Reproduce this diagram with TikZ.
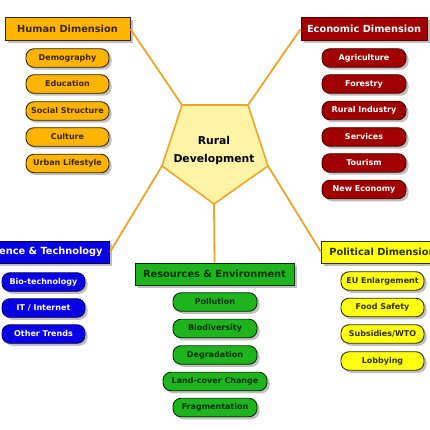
\documentclass[tikz,border=0pt]{standalone}
\usepackage{fontspec}
\setmainfont{DejaVu Sans}
\usetikzlibrary{shadows}
\definecolor{conn}{HTML}{F0A428}
\definecolor{pentfill}{HTML}{FFF4A6}
\definecolor{humfill}{HTML}{FFB400}
\definecolor{humdark}{HTML}{3A2600}
\definecolor{ecofill}{HTML}{A00000}
\definecolor{ecodark}{HTML}{4A0000}
\definecolor{scifill}{HTML}{0A00E6}
\definecolor{scidark}{HTML}{000050}
\definecolor{resfill}{HTML}{1EB41E}
\definecolor{resdark}{HTML}{003000}
\definecolor{polfill}{HTML}{FFFF10}
\definecolor{poldark}{HTML}{303000}
\tikzset{
  conline/.style={draw=conn, line width=1.8pt},
  shad/.style={drop shadow={shadow xshift=2.5pt, shadow yshift=-2.5pt, opacity=0.25, fill=black}},
  header/.style={shad, draw, line width=0.8pt, minimum height=23pt, inner xsep=4pt,
    font=\fontsize{9.8}{11}\selectfont\bfseries},
  pill/.style={shad, draw, line width=0.9pt, rounded corners=8pt, minimum width=83pt,
    minimum height=18.5pt, inner xsep=2pt, inner ysep=0pt, font=\fontsize{8}{9}\selectfont\bfseries},
  hum/.style={fill=humfill, draw=humdark, text=humdark},
  eco/.style={fill=ecofill, draw=ecodark, text=white},
  sci/.style={fill=scifill, draw=scidark, text=white},
  res/.style={fill=resfill, draw=resdark, text=resdark},
  pol/.style={fill=polfill, draw=poldark, text=poldark},
}
\begin{document}
\begin{tikzpicture}[x=1pt, y=-1pt]
\useasboundingbox (0,0) rectangle (430,430);
\clip (0,0) rectangle (430,430);
\fill[white] (0,0) rectangle (430,430);
% pentagon vertices
\coordinate (pTL) at (182,105);
\coordinate (pTR) at (248,105);
\coordinate (pR) at (268,166);
\coordinate (pB) at (214,204);
\coordinate (pL) at (162,166);
% header boxes
\node[header, hum, minimum width=125pt] (human) at (67.5,29) {Human Dimension};
\node[header, eco, minimum width=126pt] (econ) at (364,29) {Economic Dimension};
\node[header, sci, minimum height=22pt, anchor=east, inner xsep=7pt] (sci) at (110,252) {Science \& Technology};
\node[header, res, minimum height=22pt, minimum width=159pt] (resenv) at (214.5,274) {Resources \& Environment};
\node[header, pol, minimum height=22pt, anchor=west, inner xsep=8pt] (pol) at (321,252) {Political Dimension};
% connectors
\draw[conline] (pTL) -- (human.east);
\draw[conline] (pTR) -- (econ.west);
\draw[conline] (pL) -- (sci.east);
\draw[conline] (pR) -- (pol.west);
\draw[conline] (pB) -- (resenv.north);
% pentagon
\draw[fill=pentfill, draw=conn, line width=1.6pt, line join=round] (pTL) -- (pTR) -- (pR) -- (pB) -- (pL) -- cycle;
\node[align=center, font=\fontsize{10.8}{18}\selectfont\bfseries, text=black] (center) at (214,151) {Rural\\Development};
% human items
\node[pill, hum] (h1) at (67.5,58) {Demography};
\node[pill, hum] (h2) at (67.5,84) {Education};
\node[pill, hum] (h3) at (67.5,111) {Social Structure};
\node[pill, hum] (h4) at (67.5,137) {Culture};
\node[pill, hum] (h5) at (67.5,163.5) {Urban Lifestyle};
% economic items
\node[pill, eco, minimum width=84pt] (e1) at (364,58) {Agriculture};
\node[pill, eco, minimum width=84pt] (e2) at (364,84) {Forestry};
\node[pill, eco, minimum width=84pt] (e3) at (364,110.5) {Rural Industry};
\node[pill, eco, minimum width=84pt] (e4) at (364,137) {Services};
\node[pill, eco, minimum width=84pt] (e5) at (364,163) {Tourism};
\node[pill, eco, minimum width=84pt] (e6) at (364,189.5) {New Economy};
% science items
\node[pill, sci] (s1) at (43.5,282) {Bio-technology};
\node[pill, sci] (s2) at (43.5,308) {IT / Internet};
\node[pill, sci] (s3) at (43.5,334) {Other Trends};
% resources items
\node[pill, res, minimum width=84pt] (r1) at (215,302) {Pollution};
\node[pill, res, minimum width=84pt] (r2) at (215,328.5) {Biodiversity};
\node[pill, res, minimum width=84pt] (r3) at (215,355) {Degradation};
\node[pill, res, minimum width=104pt] (r4) at (215,381.5) {Land-cover Change};
\node[pill, res, minimum width=84pt] (r5) at (215,407.5) {Fragmentation};
% political items
\node[pill, pol] (q1) at (382.5,281) {EU Enlargement};
\node[pill, pol] (q2) at (382.5,307.5) {Food Safety};
\node[pill, pol] (q3) at (382.5,334) {Subsidies/WTO};
\node[pill, pol] (q4) at (382.5,361) {Lobbying};
\end{tikzpicture}
\end{document}
